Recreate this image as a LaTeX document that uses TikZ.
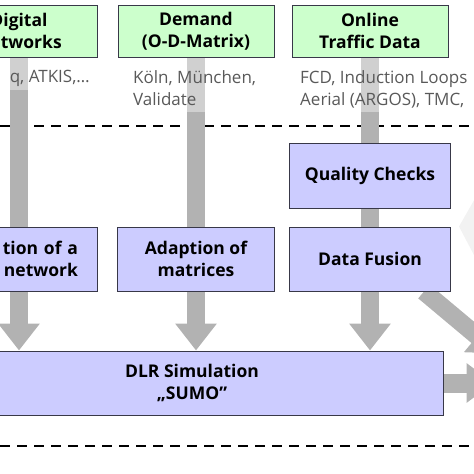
\documentclass[tikz,border=0pt]{standalone}
\usepackage{fontspec}
\setmainfont{Open Sans}
\usetikzlibrary{arrows.meta,positioning}
\definecolor{srcgreen}{HTML}{CCFFCC}
\definecolor{procblue}{HTML}{CCCCFF}
\definecolor{boxline}{HTML}{383848}
\tikzstyle{src}=[draw=boxline,fill=srcgreen,line width=1pt,minimum width=156pt,minimum height=52pt,align=center,font=\bfseries\fontsize{17.5}{22}\selectfont]
\tikzstyle{proc}=[draw=boxline,fill=procblue,line width=1pt,minimum width=161pt,minimum height=64pt,align=center,font=\bfseries\fontsize{17.5}{22}\selectfont]
\tikzstyle{info}=[inner sep=0pt,align=left,text=black!65,font=\fontsize{17}{22}\selectfont]
\tikzstyle{fat}=[line width=18pt,draw=gray!60,-{Triangle[width=40pt,length=27pt]}]
\tikzstyle{sep}=[line width=1.6pt,dash pattern=on 10pt off 7pt]
\pgfdeclarelayer{bg}
\pgfsetlayers{bg,main}

\begin{document}
\begin{tikzpicture}[x=1pt,y=-1pt]
\useasboundingbox (0,0) rectangle (474,474);
\clip (0,0) rectangle (474,474);
% data sources
\node (net) [src] at (19,31) {Digital\\Networks};
\node (dem) [src] at (196,31) {Demand\\(O-D-Matrix)};
\node (onl) [src] at (370,31) {Online\\Traffic Data};
\node (netinfo) [info,anchor=north east] at (90,70) {q, ATKIS,…};
\node (deminfo) [info,anchor=north west] at (133,70) {Köln, München,\\Validate};
\node (onlinfo) [info,anchor=north west] at (300,70) {FCD, Induction Loops\\Aerial (ARGOS), TMC,};
% processing
\node (gen) [proc,minimum width=156pt,text width=118pt,align=right] at (19,259) {tion of a\\network};
\node (adp) [proc,minimum width=157pt] at (196,259) {Adaption of\\matrices};
\node (qc) [proc,minimum height=65pt] at (370,175.5) {Quality Checks};
\node (fus) [proc] at (370,259) {Data Fusion};
\node (sumo) [proc,minimum width=502pt] at (192,383) {DLR Simulation\\„SUMO”};

\begin{pgfonlayer}{bg}
\draw[sep] (0,126) -- (474,126);
\draw[sep] (0,446) -- (474,446);
\foreach \s in {net,dem,onl}
  \draw[fat] (\s.south) -- (\s.south |- sumo.north);
\foreach \s/\d in {net/32,dem/54,onl/54}
  \fill[white,opacity=.4] ([xshift=-10pt]\s.south) rectangle ([xshift=10pt,yshift=-\d pt]\s.south);
\draw[fat,line width=19pt,-{Triangle[width=38pt,length=27pt]}] (sumo.east) -- ++(50,0) coordinate (out);
\draw[fat] ([xshift=54pt]fus.south) -- ++(74,62) coordinate (ctrl);
\draw[fat,draw=gray!10,line width=26pt,-{Triangle[width=72pt,length=20pt]}] (540,228) coordinate (back) -- ([xshift=8pt]fus.north east);
\end{pgfonlayer}
\end{tikzpicture}
\end{document}
